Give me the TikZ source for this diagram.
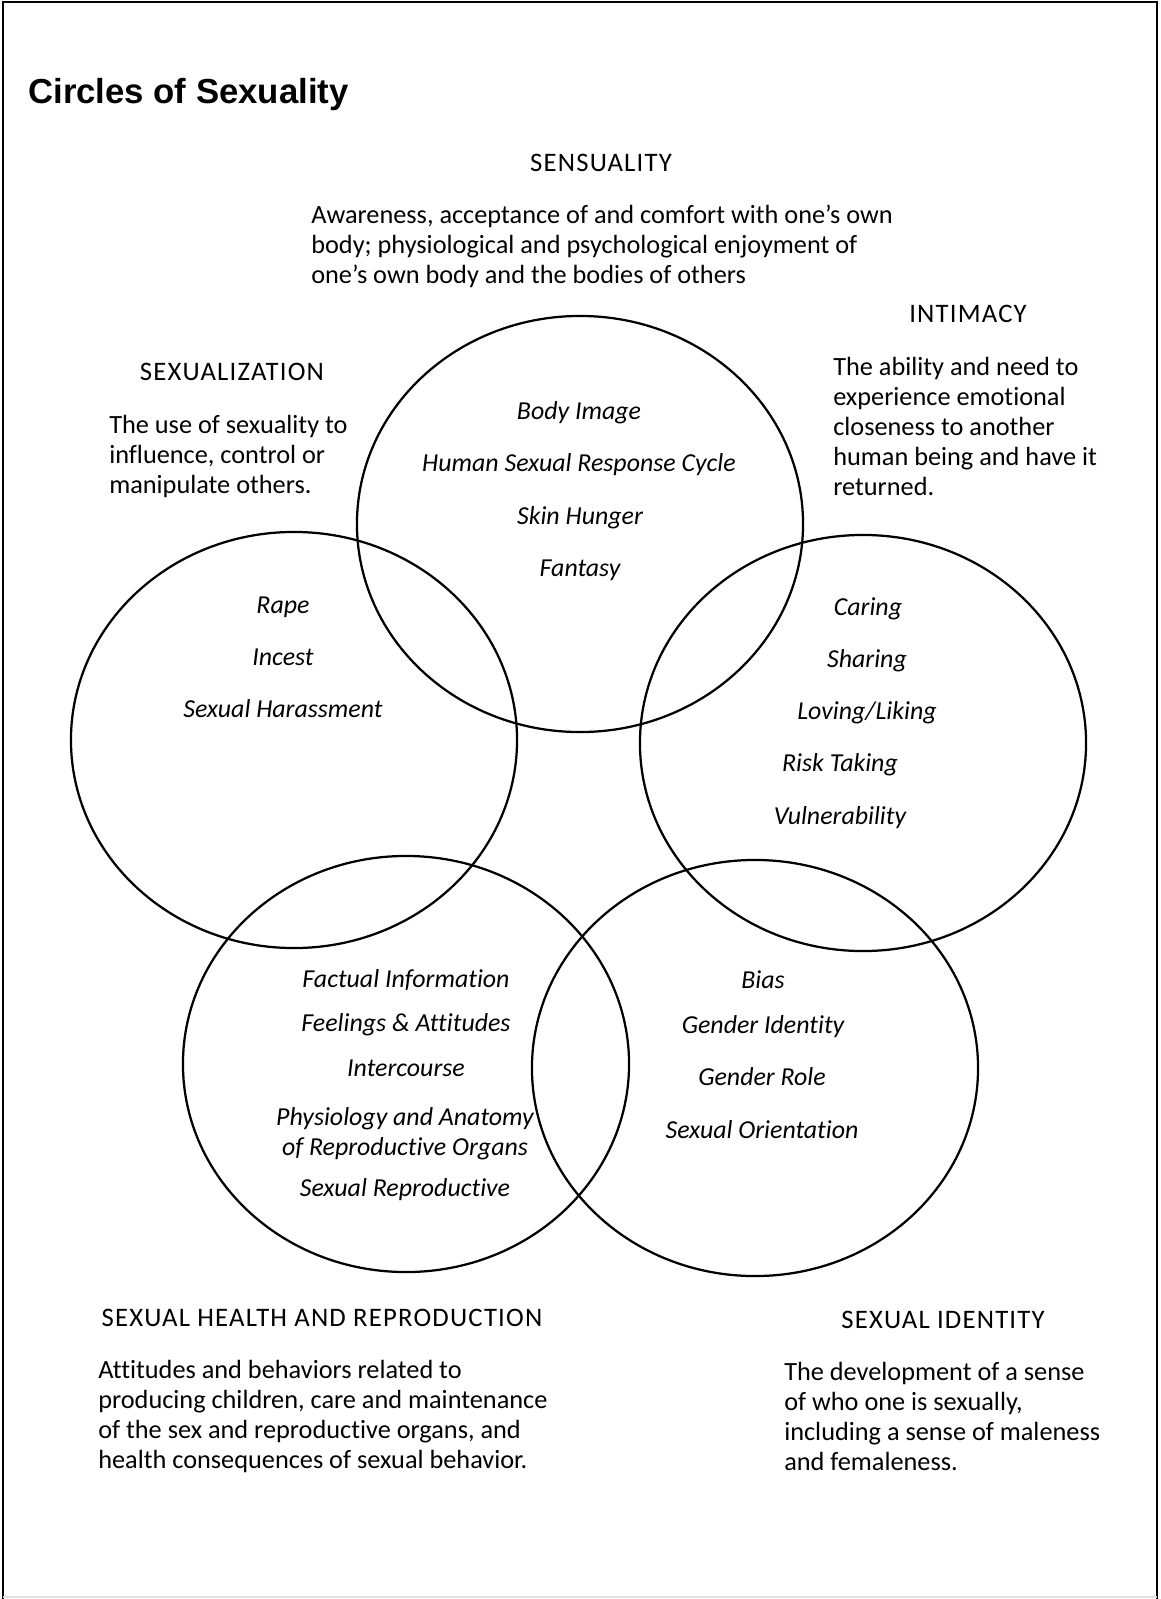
\documentclass[tikz,border=0pt]{standalone}
\usepackage{fontspec}
\setmainfont{Carlito}[Ligatures={TeX,NoCommon}]
\newfontfamily\titlefont{Liberation Sans}
\usetikzlibrary{shapes.geometric}

\def\lwidth{1.6}
\def\ringw{11.15cm}
\def\ringh{10.4cm}
\def\txtsize{\fontsize{18.7}{21.3}\selectfont}
\def\entsize{\fontsize{18.4}{21.3}\selectfont}
\def\capsize{\fontsize{19}{22}\selectfont\addfontfeature{LetterSpace=4.5}}

\begin{document}
\begin{tikzpicture}[x=0.025cm,y=-0.025cm,ring/.style={ellipse,draw,inner sep=0pt,line width=\lwidth pt,minimum width=\ringw,minimum height=\ringh},capsline/.style={font=\capsize,inner sep=0pt,anchor=mid},blurb/.style={font=\txtsize,align=left,inner sep=0pt,anchor=north west},entry/.style={font=\entsize\itshape,inner sep=0pt,anchor=mid,align=center}]
			\useasboundingbox (0,0) rectangle (1160,1599);
			% page frame
			\draw[line width=1.8pt] (3,1599) -- (3,2) -- (1157,2) -- (1157,1599);
			\draw[black!12,line width=1pt] (3,1597) -- (1157,1597);
			\node[font=\titlefont\bfseries\fontsize{24.7}{28}\selectfont,inner sep=0pt,anchor=base west] (title) at (28,103) {Circles of Sexuality};
			% the five circles
			\node[ring] (sens) at (580,524) {};
			\node[ring] (sexz) at (294,740) {};
			\node[ring] (intim) at (863,743) {};
			\node[ring] (health) at (406,1064) {};
			\node[ring] (ident) at (755,1068) {};
			% headings and descriptions
			\node[capsline] (senshd) at (601,168) {SENSUALITY};
			\node[blurb] (sensbl) at (311,205) {Awareness, acceptance of and comfort with one's own\\body; physiological and psychological enjoyment of\\one's own body and the bodies of others};
			\node[capsline] (intimhd) at (968,319) {INTIMACY};
			\node[blurb] (intimbl) at (833,357) {The ability and need to\\experience emotional\\closeness to another\\human being and have it\\returned.};
			\node[capsline] (sexzhd) at (232,377) {SEXUALIZATION};
			\node[blurb] (sexzbl) at (109,415) {The use of sexuality to\\influence, control or\\manipulate others.};
			\node[capsline] (healthhd) at (322,1323) {SEXUAL HEALTH AND REPRODUCTION};
			\node[blurb] (healthbl) at (98,1360) {Attitudes and behaviors related to\\producing children, care and maintenance\\of the sex and reproductive organs, and\\health consequences of sexual behavior.};
			\node[capsline] (identhd) at (943,1325) {SEXUAL IDENTITY};
			\node[blurb] (identbl) at (784,1362) {The development of a sense\\of who one is sexually,\\including a sense of maleness\\and femaleness.};
			% entries of the sensuality circle
			\node[entry] (e11) at (579,416) {Body Image};
			\node[entry] (e12) at (579,468) {Human Sexual Response Cycle};
			\node[entry] (e13) at (580,521) {Skin Hunger};
			\node[entry] (e14) at (580,573) {Fantasy};
			% entries of the sexualization circle
			\node[entry] (e21) at (283,610) {Rape};
			\node[entry] (e22) at (283,662) {Incest};
			\node[entry] (e23) at (283,714) {Sexual Harassment};
			% entries of the intimacy circle
			\node[entry] (e31) at (868,612) {Caring};
			\node[entry] (e32) at (867,664) {Sharing};
			\node[entry] (e33) at (867,716) {Loving/Liking};
			\node[entry] (e34) at (840,768) {Risk Taking};
			\node[entry] (e35) at (840,821) {Vulnerability};
			% entries of the sexual health circle
			\node[entry] (e41) at (406,984) {Factual Information};
			\node[entry] (e42) at (406,1028) {Feelings \& Attitudes};
			\node[entry] (e43) at (406,1073) {Intercourse};
			\node[entry,anchor=center] (e44) at (405,1134) {Physiology and Anatomy\\of Reproductive Organs};
			\node[entry] (e45) at (405,1193) {Sexual Reproductive};
			% entries of the sexual identity circle
			\node[entry] (e51) at (763,985) {Bias};
			\node[entry] (e52) at (763,1030) {Gender Identity};
			\node[entry] (e53) at (762,1082) {Gender Role};
			\node[entry] (e54) at (762,1135) {Sexual Orientation};
		\end{tikzpicture}
\end{document}
